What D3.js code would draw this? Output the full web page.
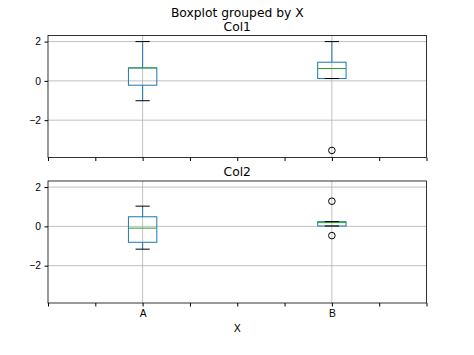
<!DOCTYPE html>
<html>
<head>
<meta charset="utf-8">
<script src="https://cdn.jsdelivr.net/npm/d3@7"></script>
<style>
    body { margin: 0; background: #fff; }
    svg { font-family: 'DejaVu Sans', sans-serif; }
    .grid { stroke: #b0b0b0; stroke-width: 0.8; }
</style>
</head>
<body>
<div class="container"></div>
<script>
const CATEGORIES = ['A', 'B'];
const PANELS = ['Col1', 'Col2'];

// box stats per panel, per category: [lowWhisker, q1, median, q3, highWhisker]
const COL1_STATS = [[-1.01, -0.22, 0.66, 0.66, 2.0], [0.12, 0.12, 0.63, 0.95, 2.0]];
const COL2_STATS = [[-1.16, -0.81, -0.09, 0.49, 1.03], [0.02, 0.02, 0.19, 0.24, 0.24]];
const COL1_FLIERS = [[], [-3.54]];
const COL2_FLIERS = [[], [1.28, -0.47]];

const Y_TICKS = [-2, 0, 2];
const Y_DOMAIN = [-3.9, 2.31];

const WIDTH = 474;
const HEIGHT = 355;
const LEFT = 48;
const RIGHT = 426.5;
const PANEL_TOPS = [35.5, 181];
const PANEL_H = 122;

const svg = d3.select('.container').append('svg')
    .attr('width', WIDTH)
    .attr('height', HEIGHT);

svg.append('text')
    .attr('x', (LEFT + RIGHT) / 2)
    .attr('y', 17)
    .attr('text-anchor', 'middle')
    .style('font-size', '12.3px')
    .text('Boxplot grouped by X');

const xScale = d3.scaleLinear().domain([0.5, 2.5]).range([LEFT, RIGHT]);
const xTicks = d3.range(0.5, 2.51, 0.25);

const stats = [COL1_STATS, COL2_STATS];
const fliers = [COL1_FLIERS, COL2_FLIERS];

PANELS.forEach((name, p) => {
    const top = PANEL_TOPS[p];
    const yScale = d3.scaleLinear().domain(Y_DOMAIN).range([top + PANEL_H, top]);
    const g = svg.append('g');

    // grid
    g.selectAll('.hgrid').data(Y_TICKS).enter().append('line')
        .attr('class', 'grid')
        .attr('x1', LEFT).attr('x2', RIGHT)
        .attr('y1', d => yScale(d)).attr('y2', d => yScale(d));
    g.selectAll('.vgrid').data([1, 2]).enter().append('line')
        .attr('class', 'grid')
        .attr('x1', d => xScale(d)).attr('x2', d => xScale(d))
        .attr('y1', top).attr('y2', top + PANEL_H);

    // y axis
    const yAxis = d3.axisLeft(yScale).tickValues(Y_TICKS).tickSize(3.5).tickPadding(3.5)
        .tickFormat(d => d < 0 ? '\u2212' + Math.abs(d) : d);
    const ya = g.append('g').attr('transform', `translate(${LEFT},0)`).call(yAxis);
    ya.select('.domain').remove();
    ya.selectAll('text').style('font-size', '10.3px').attr('fill', '#000');

    // x axis
    const xAxis = d3.axisBottom(xScale).tickValues(xTicks).tickSize(3.5).tickPadding(3.5)
        .tickFormat(d => (p === 1 && (d === 1 || d === 2)) ? CATEGORIES[d - 1] : '');
    const xa = g.append('g').attr('transform', `translate(0,${top + PANEL_H})`).call(xAxis);
    xa.select('.domain').remove();
    xa.selectAll('text').style('font-size', '10.3px').attr('fill', '#000');

    // frame
    g.append('rect')
        .attr('x', LEFT).attr('y', top)
        .attr('width', RIGHT - LEFT).attr('height', PANEL_H)
        .attr('fill', 'none').attr('stroke', '#000').attr('stroke-width', 0.8);

    g.append('text')
        .attr('x', (LEFT + RIGHT) / 2)
        .attr('y', top - 5)
        .attr('text-anchor', 'middle')
        .style('font-size', '12.3px')
        .text(name);

    const boxW = 0.15, capW = 0.075;
    stats[p].forEach((s, i) => {
        const c = i + 1;
        // whiskers
        g.append('line').attr('x1', xScale(c)).attr('x2', xScale(c))
            .attr('y1', yScale(s[0])).attr('y2', yScale(s[1]))
            .attr('stroke', '#1f77b4').attr('stroke-width', 1);
        g.append('line').attr('x1', xScale(c)).attr('x2', xScale(c))
            .attr('y1', yScale(s[3])).attr('y2', yScale(s[4]))
            .attr('stroke', '#1f77b4').attr('stroke-width', 1);
        // box
        g.append('rect')
            .attr('x', xScale(c - boxW / 2)).attr('width', xScale(c + boxW / 2) - xScale(c - boxW / 2))
            .attr('y', yScale(s[3])).attr('height', yScale(s[1]) - yScale(s[3]))
            .attr('fill', 'none').attr('stroke', '#1f77b4').attr('stroke-width', 1);
        // median
        g.append('line')
            .attr('x1', xScale(c - boxW / 2)).attr('x2', xScale(c + boxW / 2))
            .attr('y1', yScale(s[2])).attr('y2', yScale(s[2]))
            .attr('stroke', '#2ca02c').attr('stroke-width', 1);
        // caps
        [s[0], s[4]].forEach(v => {
            g.append('line')
                .attr('x1', xScale(c - capW / 2)).attr('x2', xScale(c + capW / 2))
                .attr('y1', yScale(v)).attr('y2', yScale(v))
                .attr('stroke', '#000').attr('stroke-width', 1);
        });
        // fliers
        fliers[p][i].forEach(v => {
            g.append('circle')
                .attr('cx', xScale(c)).attr('cy', yScale(v)).attr('r', 3.3)
                .attr('fill', 'none').attr('stroke', '#000').attr('stroke-width', 1);
        });
    });
});

svg.append('text')
    .attr('x', (LEFT + RIGHT) / 2)
    .attr('y', 332)
    .attr('text-anchor', 'middle')
    .style('font-size', '10.3px')
    .text('X');
</script>
</body>
</html>
